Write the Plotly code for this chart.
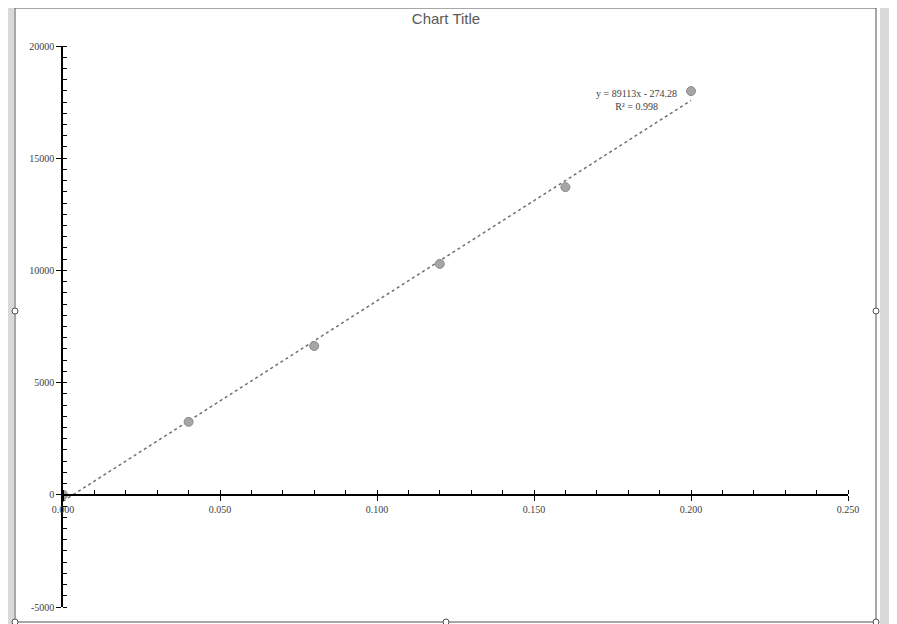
import numpy as np
import plotly.graph_objects as go

# standard points (concentration vs signal)
conc = [0.0, 0.04, 0.08, 0.12, 0.16, 0.20]
signal = [0, 3250, 6630, 10290, 13710, 17990]

equation_text = "y = 89113x - 274.28"
r2_text = "R² = 0.998"

x_ticks = [0.0, 0.05, 0.10, 0.15, 0.20, 0.25]
y_ticks = [-5000, 0, 5000, 10000, 15000, 20000]
y_labels = ["-5000", "0", "5000", "10000", "15000", "20000"]

# linear trendline
slope, intercept = np.polyfit(conc, signal, 1)
trend_x = [min(conc), max(conc)]
trend_y = [slope * v + intercept for v in trend_x]

# page has an 8px body margin, so the figure starts at (8, 8)
OFF = 8
W, H = 897 - OFF, 624 - OFF
L, R, T, B = 63 - OFF, 49, 46 - OFF, 17
pw, ph = W - L - R, H - T - B

# screen pixel -> paper fraction
def px(x):
    return (x - OFF - L) / pw

def py(y):
    return (H - B - (y - OFF)) / ph

fig = go.Figure()
fig.add_trace(go.Scatter(x=trend_x, y=trend_y, mode="lines",
                         line=dict(color="#707070", width=1.5, dash="dot"),
                         showlegend=False, hoverinfo="skip"))
fig.add_trace(go.Scatter(x=conc, y=signal, mode="markers",
                         marker=dict(size=9, color="#a6a6a6", line=dict(color="#8c8c8c", width=1)),
                         showlegend=False))

fig.add_annotation(x=0.1825, y=17590, text=equation_text + "<br>" + r2_text,
                   showarrow=False, align="center",
                   font=dict(family="Liberation Serif", size=10, color="#404040"))

# window frame around the chart
shapes = [
    dict(type="rect", xref="paper", yref="paper", x0=px(OFF), x1=px(897), y0=py(624), y1=py(OFF),
         fillcolor="#d9d9d9", line_width=0, layer="below"),
    dict(type="rect", xref="paper", yref="paper", x0=px(14), x1=px(880), y0=py(624), y1=py(OFF),
         fillcolor="white", line_width=0, layer="below"),
    dict(type="rect", xref="paper", yref="paper", x0=px(15), x1=px(876), y0=py(622), y1=py(OFF),
         line=dict(color="#505050", width=1)),
]
handles = [(15, 311), (876, 311), (446, 622), (15, 622), (876, 622)]
for hx, hy in handles:
    shapes.append(dict(type="circle", xref="paper", yref="paper",
                       x0=px(hx - 3), x1=px(hx + 3), y0=py(hy + 3), y1=py(hy - 3),
                       fillcolor="white", line=dict(color="#505050", width=1)))

fig.update_layout(
    width=W, height=H,
    margin=dict(l=L, r=R, t=T, b=B),
    paper_bgcolor="#d9d9d9",
    plot_bgcolor="rgba(0,0,0,0)",
    shapes=shapes,
    title=dict(text="Chart Title", x=(446 - OFF) / W, xanchor="center",
               y=1 - (19 - OFF) / H, yanchor="middle",
               font=dict(family="Liberation Sans", size=15, color="#595959")),
    font=dict(family="Liberation Serif", size=10, color="#404040"),
)
fig.update_xaxes(range=[0, 0.25], tickvals=x_ticks, tickformat=".3f",
                 showgrid=False, zeroline=False,
                 showline=True, linecolor="black", linewidth=1.5,
                 ticks="outside", ticklen=5, tickcolor="black",
                 minor=dict(dtick=0.01, ticks="inside", ticklen=4, tickcolor="black", showgrid=False),
                 anchor="free", position=0.2)
fig.update_yaxes(range=[-5000, 20000], tickvals=y_ticks, ticktext=y_labels,
                 showgrid=False, zeroline=False,
                 showline=True, linecolor="black", linewidth=1.5,
                 ticks="outside", ticklen=5, tickcolor="black",
                 minor=dict(dtick=500, ticks="inside", ticklen=4, tickcolor="black", showgrid=False))

fig.write_html("out.html")
